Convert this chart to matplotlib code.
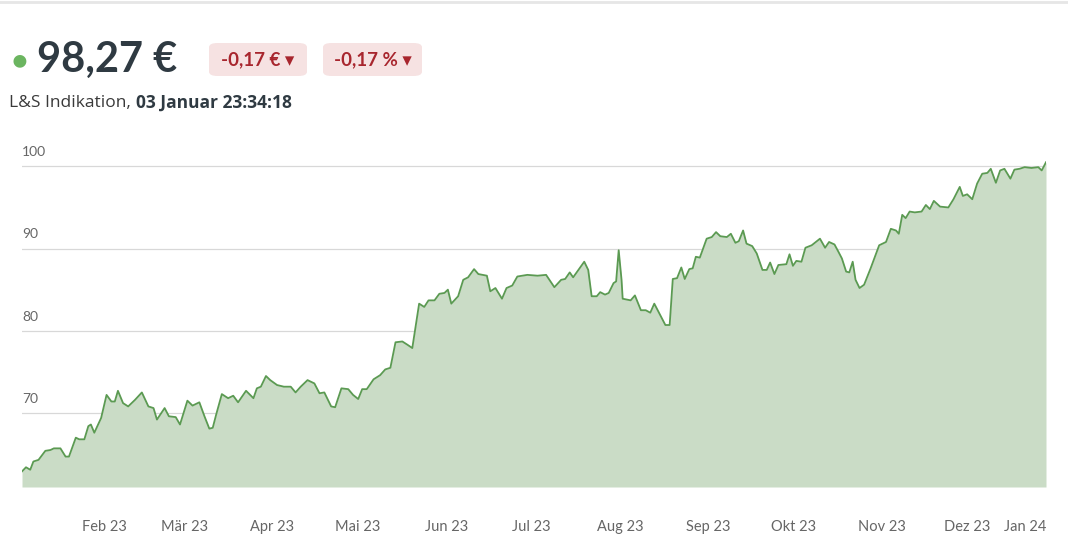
import matplotlib
matplotlib.use("Agg")
import matplotlib.pyplot as plt
from matplotlib.patches import FancyBboxPatch
import numpy as np
import pandas as pd

start_date = "2023-01-03"
days = [0,1.4,2.9,4.0,5.8,8.2,10.0,11.2,13.5,15.3,16.5,18.9,20.1,21.9,23.3,24.2,25.4,27.8,29.7,31.4,32.6,33.7,35.5,37.3,39.7,42.1,44.4,46.2,47.4,50.1,51.6,54.0,55.5,58.1,59.9,62.3,64.1,65.8,67.0,68.2,70.2,72.4,74.2,75.9,78.7,81.3,82.5,83.9,85.7,87.2,89.6,92.0,94.4,96.1,97.9,100.3,102.7,104.5,106.2,108.6,110.0,112.2,114.6,116.3,118.1,119.5,121.1,123.5,125.8,127.6,129.4,131.2,133.6,135.4,137.1,139.5,141.3,142.8,144.9,146.6,148.4,149.6,150.8,153.2,155.0,156.7,158.8,160.3,163.3,164.5,166.3,168.6,170.2,172.2,174.0,177.5,
        181.1,184.1,187.0,189.4,190.8,192.4,193.6,197.5,198.9,200.1,201.9,203.1,204.8,206.1,207.8,208.7,209.6,210.6,211.0,213.8,215.3,217.4,219.1,220.7,222.1,223.9,226.0,227.5,228.6,230.1,231.6,232.8,234.4,235.6,236.7,238.1,240.5,242.3,243.8,245.3,247.6,249.0,250.6,251.8,253.3,254.5,256.5,258.1,260.1,261.6,262.8,264.3,265.7,268.5,269.6,270.8,272.0,273.8,275.2,277.4,280.3,282.1,283.5,285.4,286.8,288.0,289.5,290.6,291.8,292.8,294.2,295.8,298.1,301.1,303.5,305.2,307.0,308.0,309.2,310.4,311.8,313.6,316.0,317.5,318.9,320.3,322.5,325.4,327.2,329.4,330.5,332.0,333.8,335.5,337.3,339.1,340.3,342.1,343.6,345.1,347.2,348.6,350.4,352.2,354.6,357.0,358.2,359.7]
prices = [62.9,63.4,63.1,64.1,64.3,65.4,65.5,65.7,65.7,64.7,64.7,67.0,66.8,66.8,68.4,68.6,67.6,69.4,72.2,71.4,71.4,72.7,71.2,70.8,71.6,72.5,70.8,70.6,69.2,70.6,69.6,69.5,68.6,71.5,70.9,71.3,69.6,68.1,68.2,69.8,72.3,71.8,72.1,71.3,72.7,71.8,73.0,73.2,74.5,74.0,73.4,73.2,73.2,72.5,73.2,74.0,73.6,72.4,72.5,70.8,70.7,73.0,72.9,72.2,71.7,72.9,72.9,74.1,74.6,75.3,75.5,78.6,78.7,78.3,77.9,83.3,82.9,83.7,83.7,84.5,84.6,85.0,83.3,84.2,86.2,86.5,87.5,86.9,86.7,84.8,85.2,83.9,85.2,85.5,86.6,86.8,
          86.7,86.8,85.3,86.2,86.3,87.1,86.5,88.4,87.4,84.2,84.2,84.7,84.4,84.6,85.8,86.0,89.8,86.2,83.9,83.7,84.3,82.5,82.5,82.2,83.3,82.1,80.7,80.7,86.3,86.4,87.7,86.3,87.5,87.6,89.0,88.9,91.2,91.4,92.0,91.5,91.4,91.8,90.7,90.9,92.2,90.6,90.3,89.4,87.4,87.4,88.3,86.9,88.0,88.1,89.3,87.9,88.5,88.4,90.1,90.4,91.2,90.1,90.8,90.5,89.6,88.8,87.2,87.1,88.4,86.2,85.2,85.6,87.6,90.4,90.8,92.4,92.2,91.8,94.1,93.7,94.5,94.4,94.5,95.3,94.8,95.8,95.1,95.0,96.0,97.5,96.4,96.6,96.0,97.9,99.1,99.2,99.7,98.0,99.5,99.7,98.5,99.6,99.7,99.9,99.8,99.9,99.5,100.5]
month_labels = ["Feb 23","Mär 23","Apr 23","Mai 23","Jun 23","Jul 23","Aug 23","Sep 23","Okt 23","Nov 23","Dez 23","Jan 24"]
month_starts = ["2023-02-01","2023-03-01","2023-04-01","2023-05-01","2023-06-01","2023-07-01","2023-08-01","2023-09-01","2023-10-01","2023-11-01","2023-12-01","2024-01-01"]
y_ticks = [70, 80, 90, 100]

plt.rcParams['font.family'] = ['Lato', 'DejaVu Sans']
fig = plt.figure(figsize=(10.68, 5.39), dpi=100)
W, H = 1068, 539
ax = fig.add_axes([22/W, 1-487/H, 1024/W, (487-154)/H])

x = np.array(days)
y = np.array(prices)
ymin, ymax = 61.0, 101.5
ax.fill_between(x, y, ymin, color="#cadcc6", lw=0)
ax.plot(x, y, color="#5b9a52", lw=1.3, solid_joinstyle="round")
ax.set_xlim(x[0], x[-1]); ax.set_ylim(ymin, ymax)
for t in y_ticks:
    ax.axhline(t, color="#d8d8d8", lw=0.9, zorder=0.5)
    ax.text(0.0, t + 1.0, str(t), transform=ax.get_yaxis_transform(), fontsize=10,
            color="#666666", ha="left", va="bottom")
for s in ax.spines.values(): s.set_visible(False)
ax.set_yticks([])
t0 = pd.Timestamp(start_date)
pos = [min((pd.Timestamp(m) - t0).days, x[-1]) for m in month_starts]
ax.set_xticks(pos)
ax.set_xticklabels(month_labels, fontsize=10.5, color="#666666")
ax.tick_params(axis='x', length=0, pad=24)
ax.get_xticklabels()[-1].set_ha("right")

# header
fig.add_artist(plt.Line2D([0, 1], [1-2/H, 1-2/H], color="#e6e6e6", lw=2))
fig.text(19/W, 1-61/H, "●", fontsize=19, color="#6bb560", ha="center", va="center")
fig.text(37/W, 1-60/H, "98,27 €", fontsize=30, fontweight="bold", color="#2f3a42", va="center")
for (x0, x1, txt) in [(209, 307, "-0,17 € ▾"), (323, 422, "-0,17 % ▾")]:
    fig.add_artist(FancyBboxPatch((x0/W, 1-76/H), (x1-x0)/W, 33/H,
                   boxstyle="round,pad=0,rounding_size=0.008", transform=fig.transFigure,
                   fc="#f6e2e2", ec="none"))
    fig.text((x0+x1)/2/W, 1-60/H, txt, fontsize=13.5, fontweight="bold", color="#a8262e",
             ha="center", va="center", family=['Lato', 'DejaVu Sans'])
t1 = fig.text(9/W, 1-103/H, "L&S Indikation,", fontsize=12.5, color="#3a3a3a", va="center",
              family=['Open Sans', 'DejaVu Sans'])
fig.canvas.draw()
bb = t1.get_window_extent()
fig.text(bb.x1/W + 5/W, 1-103/H, "03 Januar 23:34:18", fontsize=12.5, fontweight="bold",
         color="#2f3a42", va="center", family=['Open Sans', 'DejaVu Sans'])
fig.savefig("out.png", dpi=100)
